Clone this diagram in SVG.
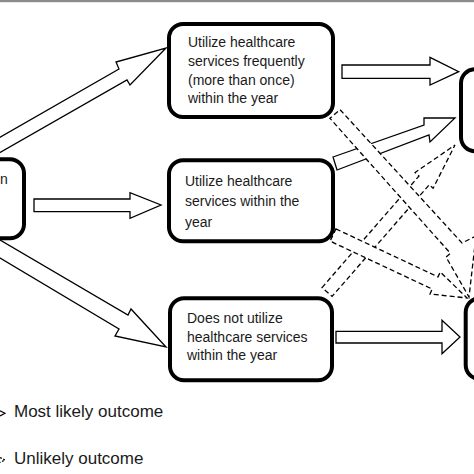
<svg xmlns="http://www.w3.org/2000/svg" width="474" height="474" viewBox="0 0 474 474">
<style>
.box{fill:#fff;stroke:#000;stroke-width:4}
.txt{font-family:"Liberation Sans",Arial,sans-serif;font-size:14px;fill:#1a1a1a}
.leg{font-family:"Liberation Sans",Arial,sans-serif;font-size:17px;fill:#1a1a1a}
.sa{fill:#fff;stroke:#000;stroke-width:1.3;stroke-linejoin:miter}
.da{fill:#fff;stroke:#000;stroke-width:1.3;stroke-dasharray:5 3}
</style>
<rect x="0" y="0" width="474" height="474" fill="#fff"/>
<rect x="0" y="0" width="474" height="2.2" fill="#8c8c8c"/>
<g id="connectors">
<polygon class="sa" points="-5,140 119,69 116,62 166,48 130,85 127,80 -5,155.4"/>
<polygon class="sa" points="34,199 130,199 130,192.7 161,205 130,218.3 130,211.7 34,211.7"/>
<polygon class="sa" points="-5,237 128,315 131,309 166,347 115,336 119,329 -5,255"/>
<polygon class="sa" points="342,65 430,65 430,57.3 458.7,71.7 430,85 430,78.3 342,78.3"/>
<polygon class="sa" points="336,331.3 442,331.3 442,320.3 460,337 442,353.7 442,343 336,343"/>
<polygon class="sa" points="333,157 424,125 424,118 455,118 430,142 429,135 337,170"/>
<polygon class="da" points="322,287.6 419,176 415.1,172.5 455,145 433.1,188.3 429.2,184.8 332.1,296.4"/>
<polygon class="da" points="335.9,228.9 438,276.9 440.3,272 467,298 430,294 432.2,289.1 330.1,241.1"/>
<polygon class="da" points="340.1,109.7 462,243 476,236 469,297 446,257 450.4,253.3 329.9,118.3"/>
<polyline fill="none" stroke="#000" stroke-width="1.2" points="0,410.7 5,413.3 0,416"/>
<polyline fill="none" stroke="#000" stroke-width="1.2" stroke-dasharray="2 1.5" points="0,457.5 5,460 0,462.5"/>
</g>
<g id="node-left">
<rect class="box" x="-40" y="159.3" width="64" height="79" rx="14"/>
<text class="txt" x="0" y="184">n</text>
</g>
<g id="node-frequent">
<rect class="box" x="169" y="24" width="164" height="93" rx="14"/>
<text class="txt" x="188" y="47">Utilize healthcare</text>
<text class="txt" x="188" y="66">services frequently</text>
<text class="txt" x="188" y="85">(more than once)</text>
<text class="txt" x="188" y="103">within the year</text>
</g>
<g id="node-utilize">
<rect class="box" x="169" y="160.3" width="164" height="81" rx="14"/>
<text class="txt" x="185" y="186">Utilize healthcare</text>
<text class="txt" x="185" y="206">services within the</text>
<text class="txt" x="185" y="226.5">year</text>
</g>
<g id="node-notutilize">
<rect class="box" x="170" y="298.3" width="162" height="82" rx="14"/>
<text class="txt" x="187" y="323">Does not utilize</text>
<text class="txt" x="187" y="341.5">healthcare services</text>
<text class="txt" x="187" y="360">within the year</text>
</g>
<g id="node-right-top">
<rect class="box" x="461" y="69.3" width="60" height="82" rx="14"/>
</g>
<g id="node-right-bottom">
<rect class="box" x="465.7" y="298.3" width="60" height="80.7" rx="14"/>
</g>
<g id="legend">
<text class="leg" x="14" y="417">Most likely outcome</text>
<text class="leg" x="14" y="464">Unlikely outcome</text>
</g>
</svg>
